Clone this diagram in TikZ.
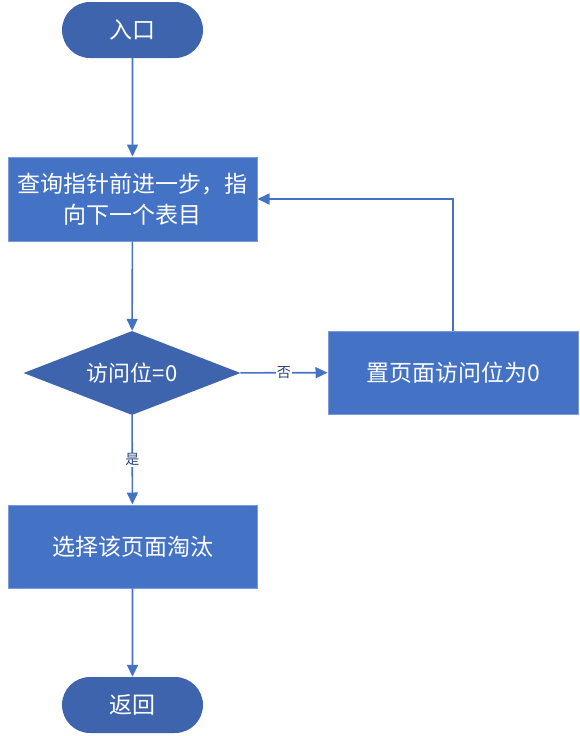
\documentclass[tikz,border=0pt]{standalone}
\usepackage{fontspec}
\setmainfont{Noto Sans CJK SC}
\usetikzlibrary{shapes.geometric,shapes.misc,arrows.meta}
\definecolor{boxblue}{HTML}{4472C4}
\definecolor{darkblue}{HTML}{3F64AE}
\definecolor{edgeblue}{HTML}{7E9AD6}
\begin{document}
\begin{tikzpicture}[x=1pt,y=-1pt,
  term/.style={rounded rectangle,fill=darkblue,minimum width=141pt,minimum height=56pt,inner sep=0pt,text=white,font=\fontsize{23}{27}\selectfont},
  proc/.style={rectangle,fill=boxblue,draw=edgeblue,line width=1pt,minimum width=249pt,minimum height=84pt,inner sep=0pt,text=white,font=\fontsize{23}{31}\selectfont,align=center},
  dec/.style={diamond,fill=darkblue,aspect=2.58,minimum width=217pt,minimum height=84pt,inner sep=0pt,text=white,font=\fontsize{22}{26}\selectfont},
  conn/.style={draw=boxblue,line width=1.6pt,-{Triangle[length=12pt,width=11pt]}},
  lbl/.style={fill=white,inner sep=1pt,text=boxblue!60!black,font=\fontsize{14}{16}\selectfont}]
\useasboundingbox (0,0) rectangle (580,736);
\node[term] (start) at (132.5,30) {入口};
\node[proc] (step1) at (132.5,199) {查询指针前进一步，指\\向下一个表目};
\node[dec] (check) at (132,373) {访问位=0};
\node[proc,minimum width=250pt,minimum height=83pt] (reset) at (453,372.5) {置页面访问位为0};
\node[proc,minimum height=83pt] (evict) at (132.5,546.5) {选择该页面淘汰};
\node[term] (ret) at (132.5,705) {返回};
\draw[conn] (start) -- (step1);
\draw[conn] (step1) -- (check);
\draw[conn] (check) -- node[lbl]{否} (reset);
\draw[conn] (reset.north) |- (step1.east);
\draw[conn] (check) -- node[lbl,pos=0.5]{是} (evict);
\draw[conn] (evict) -- (ret);
\end{tikzpicture}
\end{document}
